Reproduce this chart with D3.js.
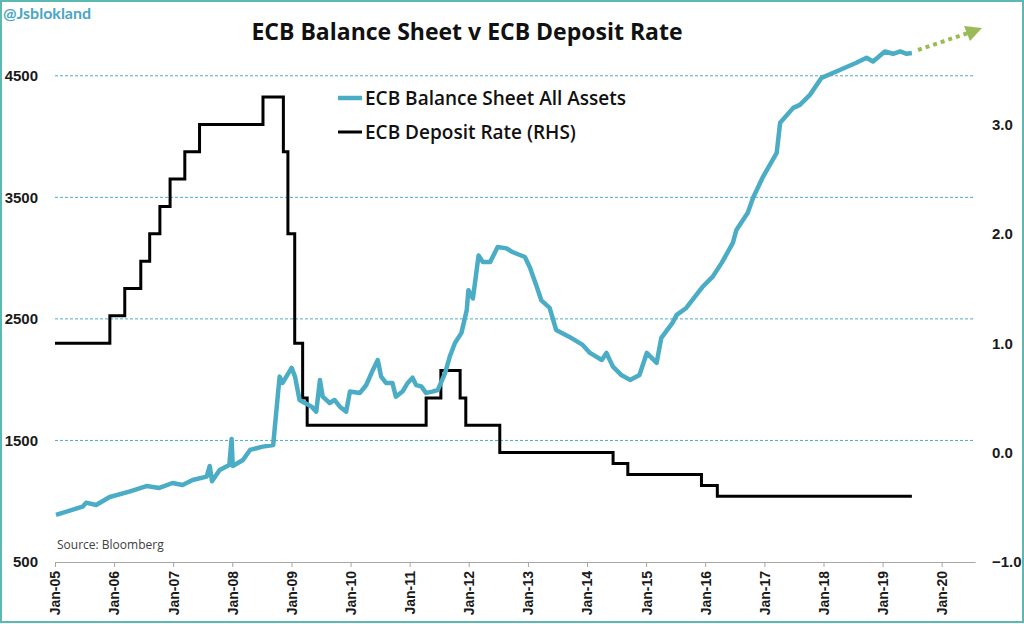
<!DOCTYPE html>
<html>
<head>
<meta charset="utf-8">
<script src="https://cdn.jsdelivr.net/npm/d3@7"></script>
<style>
  body { margin: 0; background: #fff; }
  svg { display: block; font-family: "Open Sans", sans-serif; }
  .axis text { font-weight: 700; fill: #1a1a1a; }
</style>
</head>
<body>
<div id="chart"></div>
<script>
// ECB balance sheet, all assets (EUR bn)
const bsDates = [
  "2005-01-07","2005-06-20","2005-07-12","2005-09-12","2005-12-05","2006-04-05","2006-07-20","2006-10-08",
  "2006-12-28","2007-02-28","2007-05-01","2007-07-27","2007-08-15","2007-08-29","2007-10-15","2007-12-14",
  "2007-12-28","2008-01-04","2008-03-07","2008-04-20","2008-07-08","2008-09-10","2008-10-10","2008-10-20",
  "2008-11-07","2009-01-02","2009-01-23","2009-02-20","2009-03-25","2009-05-05","2009-06-03","2009-06-26",
  "2009-07-13","2009-08-25","2009-09-24","2009-10-27","2009-12-05","2009-12-28","2010-02-28","2010-04-08",
  "2010-05-19","2010-06-18","2010-07-09","2010-08-08","2010-09-17","2010-10-08","2010-11-18","2010-12-20",
  "2011-01-19","2011-02-10","2011-03-14","2011-04-12","2011-05-22","2011-06-24","2011-08-08","2011-09-06",
  "2011-10-08","2011-11-17","2011-12-20","2011-12-30","2012-01-27","2012-03-02","2012-03-29","2012-05-12",
  "2012-06-28","2012-08-22","2012-09-27","2012-12-13","2013-01-12","2013-02-25","2013-03-25","2013-05-15",
  "2013-06-24","2013-09-12","2013-12-05","2014-01-19","2014-04-02","2014-05-01","2014-06-10","2014-07-31",
  "2014-09-24","2014-11-21","2015-01-05","2015-03-07","2015-04-05","2015-06-13","2015-07-09","2015-09-06",
  "2015-12-17","2016-02-17","2016-04-12","2016-06-20","2016-07-12","2016-09-20","2016-10-23","2016-12-24",
  "2017-03-18","2017-04-08","2017-06-28","2017-08-08","2017-10-09","2017-12-20","2018-03-21","2018-07-23",
  "2018-09-24","2018-11-03","2019-01-15","2019-03-07","2019-04-20","2019-05-30","2019-07-01"
];
const bsValues = [
  887, 955, 988, 969, 1035, 1079, 1125, 1109,
  1150, 1134, 1175, 1202, 1290, 1165, 1257, 1298,
  1512, 1290, 1339, 1422, 1449, 1463, 1891, 2025,
  1973, 2097, 2025, 1833, 1808, 1778, 1737, 1997,
  1860, 1808, 1833, 1778, 1737, 1902, 1891, 1956,
  2080, 2162, 2025, 1973, 1973, 1860, 1902, 1973,
  2016, 1956, 1945, 1891, 1902, 1915, 2054, 2190,
  2302, 2385, 2574, 2736, 2668, 3022, 2967, 2967,
  3091, 3080, 3050, 3009, 2927, 2762, 2652, 2590,
  2409, 2354, 2286, 2220, 2162, 2220, 2107, 2039,
  1998, 2039, 2220, 2138, 2344, 2467, 2533, 2590,
  2766, 2848, 2961, 3125, 3232, 3373, 3496, 3671,
  3866, 4113, 4236, 4261, 4343, 4483, 4535, 4607,
  4648, 4618, 4700, 4681, 4700, 4681, 4687
];

// ECB deposit rate (%), step changes
const rateDates = [
  "2005-01-01","2005-12-06","2006-03-08","2006-06-15","2006-08-09","2006-10-11","2006-12-13","2007-03-14",
  "2007-06-13","2008-07-09","2008-11-12","2008-12-10","2009-01-21","2009-03-11","2009-04-08","2011-04-13",
  "2011-07-13","2011-11-09","2011-12-14","2012-07-11","2014-06-11","2014-09-10","2015-12-09","2016-03-16",
  "2019-07-01"
];
const rateValues = [
  1.00, 1.25, 1.50, 1.75, 2.00, 2.25, 2.50, 2.75,
  3.00, 3.25, 2.75, 2.00, 1.00, 0.50, 0.25, 0.50,
  0.75, 0.50, 0.25, 0.00, -0.10, -0.20, -0.30, -0.40,
  -0.40
];

const leftTicks = [500, 1500, 2500, 3500, 4500];
const gridValues = [1500, 2500, 3500, 4500];
const rightTicks = [-1, 0, 1, 2, 3];
const yearTicks = d3.range(2005, 2021).map(y => new Date(y, 0, 1));

const W = 1024, H = 624;
const plot = { left: 55, right: 975, top: 15, bottom: 562 };
const teal = "#4bacc6";

const parse = d3.timeParse("%Y-%m-%d");
const bsData = bsDates.map((d, i) => ({ date: parse(d), value: bsValues[i] }));
const rateData = rateDates.map((d, i) => ({ date: parse(d), value: rateValues[i] }));

const svg = d3.select("#chart").append("svg")
  .attr("width", W)
  .attr("height", H);

// frame
svg.append("rect")
  .attr("x", 1).attr("y", 1)
  .attr("width", W - 2).attr("height", H - 3)
  .attr("fill", "none")
  .attr("stroke", "#5bb8b4")
  .attr("stroke-width", 2);

// scales
const x = d3.scaleTime()
  .domain([new Date(2005, 0, 1), new Date(2020, 6, 25)])
  .range([plot.left, plot.right]);

const yL = d3.scaleLinear().domain([500, 5000]).range([plot.bottom, plot.top]);
const yR = d3.scaleLinear().domain([-1, 4]).range([plot.bottom, plot.top]);

// grid lines
svg.append("g")
  .selectAll("line")
  .data(gridValues)
  .enter().append("line")
  .attr("x1", plot.left).attr("x2", plot.right)
  .attr("y1", d => yL(d)).attr("y2", d => yL(d))
  .attr("stroke", teal)
  .attr("stroke-width", 1)
  .attr("stroke-dasharray", "3,2");

// x axis
const xAxis = svg.append("g")
  .attr("class", "axis")
  .attr("transform", `translate(0,${plot.bottom})`)
  .call(d3.axisBottom(x).tickValues(yearTicks).tickFormat(d3.timeFormat("Jan-%y")).tickSize(5).tickSizeOuter(0));
xAxis.select(".domain").attr("stroke", "#a6a6a6");
xAxis.selectAll(".tick line").attr("stroke", "#a6a6a6");
xAxis.selectAll("text")
  .attr("transform", "rotate(-90)")
  .attr("x", -9)
  .attr("y", 0)
  .attr("dy", "0.35em")
  .style("text-anchor", "end")
  .style("font-size", "14px");

// left axis
const leftAxis = svg.append("g")
  .attr("class", "axis")
  .attr("transform", `translate(${plot.left},0)`)
  .call(d3.axisLeft(yL).tickValues(leftTicks).tickFormat(d3.format("d")).tickSize(0).tickPadding(17));
leftAxis.select(".domain").remove();
leftAxis.selectAll("text").style("font-size", "15px");

// right axis
const rightAxis = svg.append("g")
  .attr("class", "axis")
  .attr("transform", `translate(${plot.right},0)`)
  .call(d3.axisRight(yR).tickValues(rightTicks).tickFormat(d3.format(".1f")).tickSize(0).tickPadding(17));
rightAxis.select(".domain").remove();
rightAxis.selectAll("text").style("font-size", "15px");

// lines
const bsLine = d3.line().x(d => x(d.date)).y(d => yL(d.value));
const rateLine = d3.line().x(d => x(d.date)).y(d => yR(d.value)).curve(d3.curveStepAfter);

svg.append("path")
  .datum(rateData)
  .attr("d", rateLine)
  .attr("fill", "none")
  .attr("stroke", "#000")
  .attr("stroke-width", 3);

svg.append("path")
  .datum(bsData)
  .attr("d", bsLine)
  .attr("fill", "none")
  .attr("stroke", teal)
  .attr("stroke-width", 4.5)
  .attr("stroke-linejoin", "round");

// dotted arrow
const arrowStart = [918, 50], arrowEnd = [968, 33];
svg.append("line")
  .attr("x1", arrowStart[0]).attr("y1", arrowStart[1])
  .attr("x2", arrowEnd[0]).attr("y2", arrowEnd[1])
  .attr("stroke", "#9bbb59")
  .attr("stroke-width", 4)
  .attr("stroke-dasharray", "4,4");
svg.append("path")
  .attr("d", "M982,28 L964,26 L970,41 Z")
  .attr("fill", "#9bbb59");

// title
svg.append("text")
  .attr("x", 467).attr("y", 40)
  .attr("text-anchor", "middle")
  .style("font-size", "23px")
  .style("font-weight", 700)
  .attr("fill", "#111")
  .text("ECB Balance Sheet v ECB Deposit Rate");

// legend
const legend = [
  { label: "ECB Balance Sheet All Assets", color: teal, w: 4.5 },
  { label: "ECB Deposit Rate (RHS)", color: "#000", w: 3 }
];
const lg = svg.append("g").selectAll("g")
  .data(legend)
  .enter().append("g")
  .attr("transform", (d, i) => `translate(338,${98 + i * 34})`);
lg.append("line")
  .attr("x1", 0).attr("x2", 24)
  .attr("stroke", d => d.color)
  .attr("stroke-width", d => d.w);
lg.append("text")
  .attr("x", 27).attr("dy", "0.35em")
  .style("font-size", "19px")
  .style("font-weight", 600)
  .attr("fill", "#111")
  .text(d => d.label);

// source + handle
svg.append("text")
  .attr("x", 57).attr("y", 549)
  .style("font-size", "12px")
  .attr("fill", "#404040")
  .text("Source: Bloomberg");

svg.append("text")
  .attr("x", 3).attr("y", 19)
  .style("font-family", "Lato, sans-serif")
  .style("font-size", "16px")
  .style("font-weight", 700)
  .attr("fill", "#4aa6c4")
  .text("@Jsblokland");
</script>
</body>
</html>
